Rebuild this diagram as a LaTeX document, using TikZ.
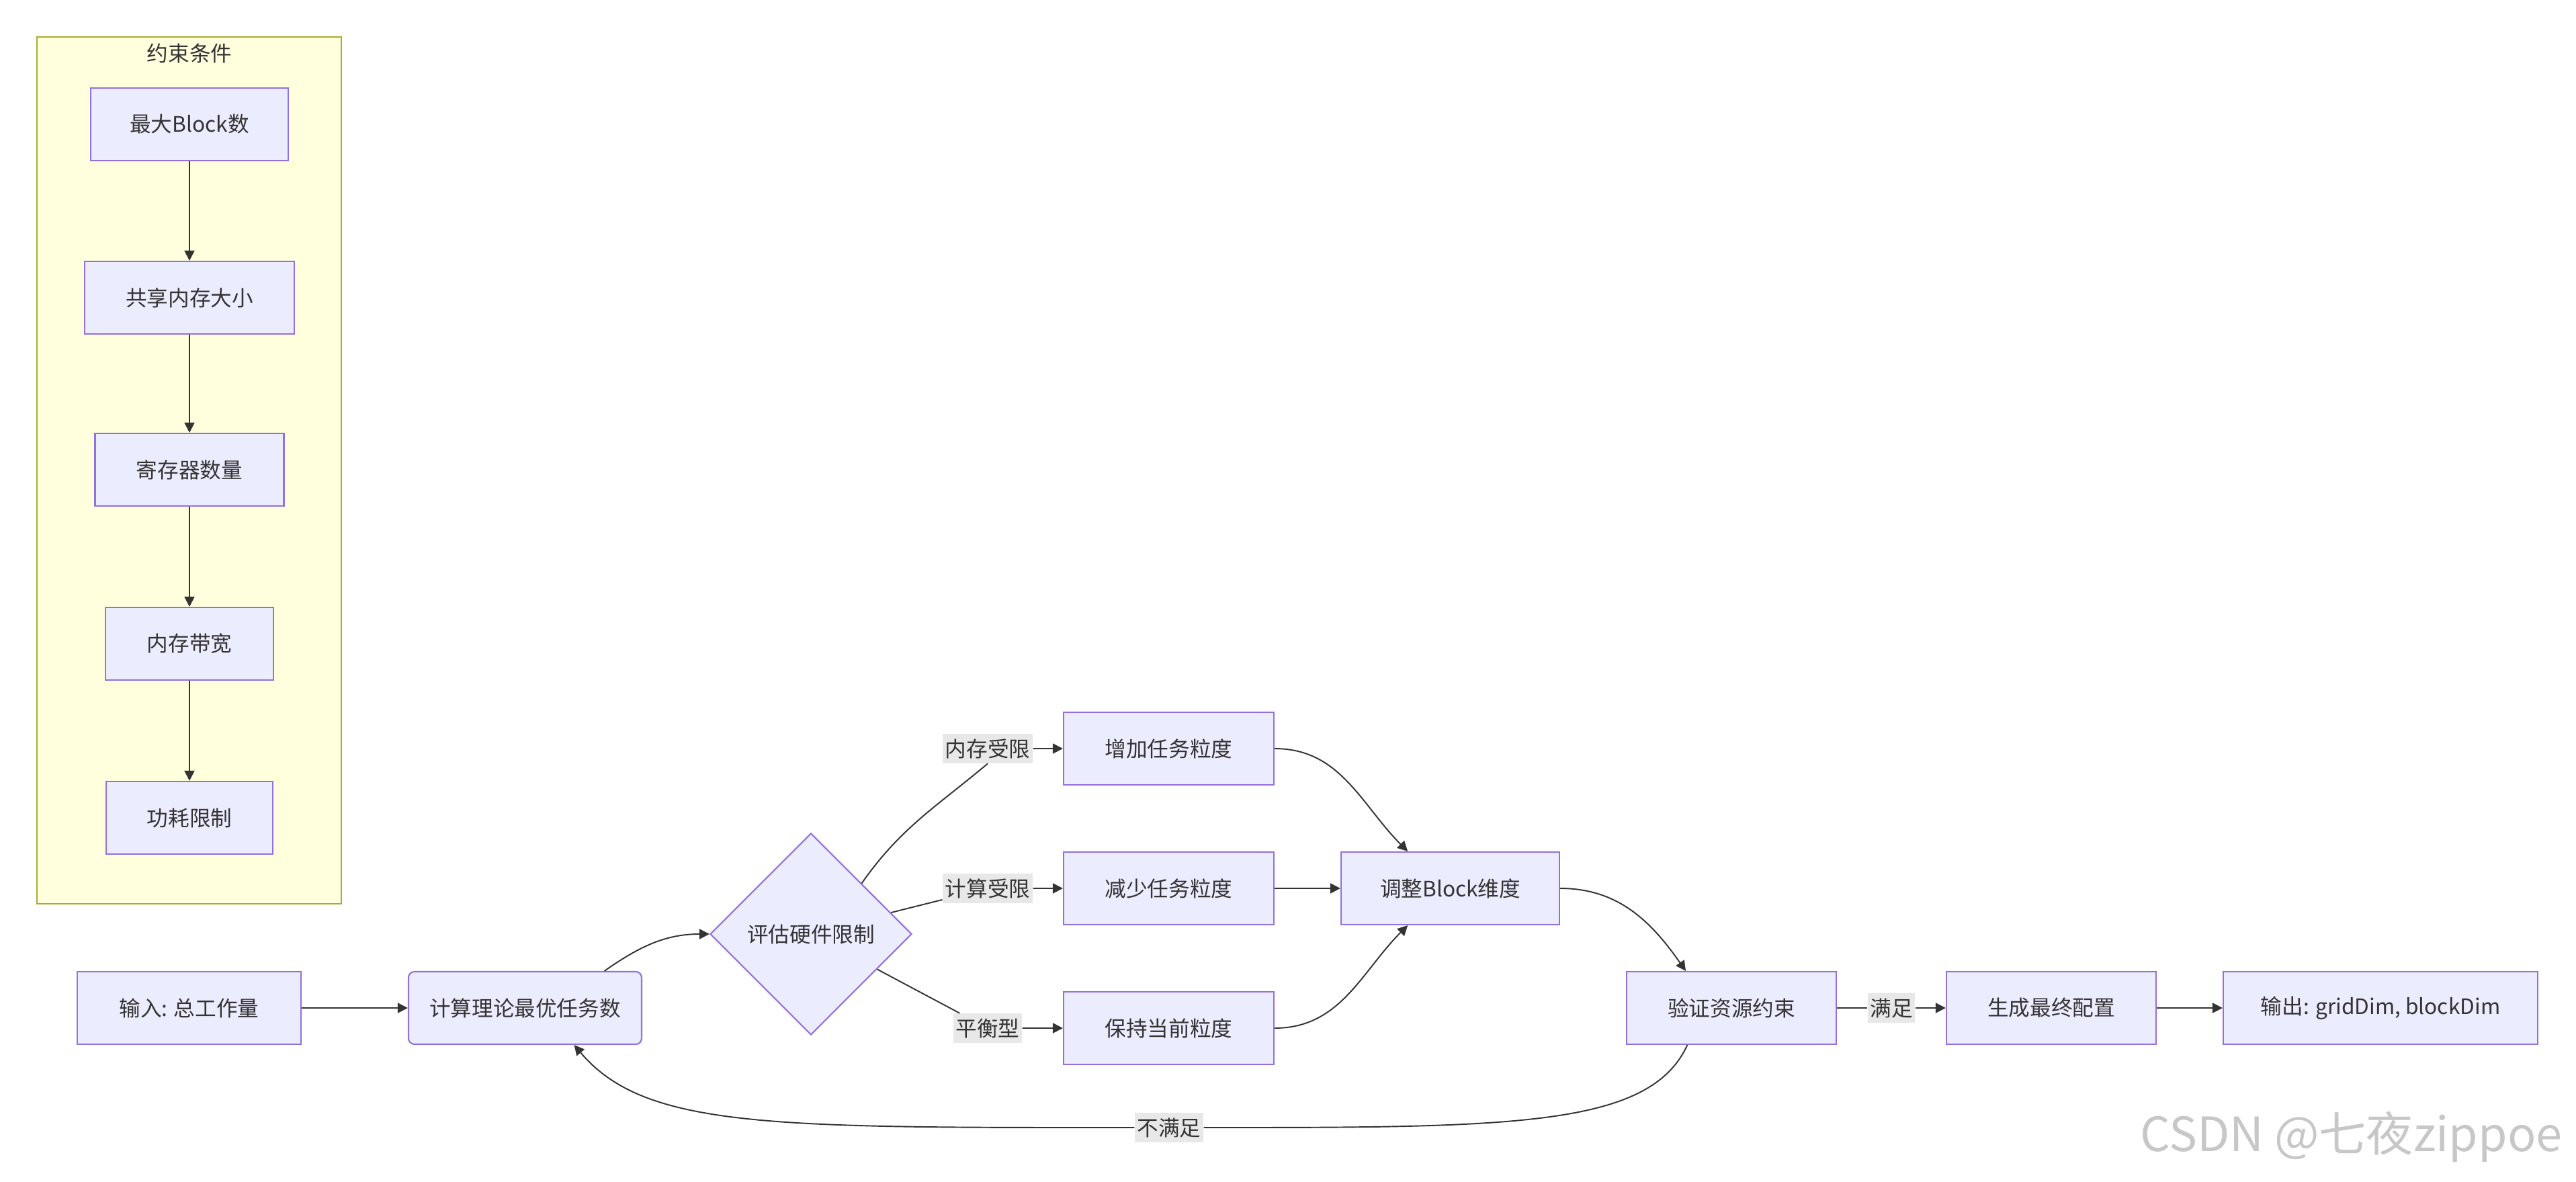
\documentclass[tikz,border=0pt]{standalone}
\usepackage{fontspec}
\setmainfont{Noto Sans CJK SC}
\usetikzlibrary{arrows.meta,shapes.geometric}

\definecolor{boxfill}{HTML}{ECECFF}
\definecolor{boxline}{HTML}{9370DB}
\definecolor{groupfill}{HTML}{FFFFDE}
\definecolor{groupline}{HTML}{AAAA33}
\definecolor{textgray}{HTML}{333333}
\definecolor{labelbg}{HTML}{E8E8E8}

\tikzset{
    box/.style={draw=boxline, fill=boxfill, line width=0.6pt, minimum height=1.08cm, inner sep=2pt, text=textgray},
    decision/.style={diamond, draw=boxline, fill=boxfill, line width=0.6pt, minimum width=3cm, minimum height=3cm, inner sep=1pt, text=textgray},
    elabel/.style={fill=labelbg, inner xsep=1pt, inner ysep=0.07cm, text=textgray},
    flow/.style={draw=textgray, line width=0.55pt, -{Triangle[length=0.15cm, width=0.15cm]}},
}

\begin{document}
\begin{tikzpicture}[font=\fontsize{9}{11}\selectfont]
    \useasboundingbox (0,0) rectangle (38.34,-17.58);

    % constraints group
    \draw[fill=groupfill, draw=groupline, line width=0.6pt] (0.55,-0.55) rectangle (5.08,-13.45);
    \node[text=textgray] (grouptitle) at (2.82,-0.79) {约束条件};

    \node[box, minimum width=2.94cm] (maxblk) at (2.82,-1.85) {最大Block数};
    \node[box, minimum width=3.12cm] (shmem) at (2.82,-4.43) {共享内存大小};
    \node[box, minimum width=2.81cm] (regs) at (2.82,-6.99) {寄存器数量};
    \node[box, minimum width=2.50cm] (membw) at (2.82,-9.58) {内存带宽};
    \node[box, minimum width=2.48cm] (power) at (2.82,-12.17) {功耗限制};

    % main flow
    \node[box, minimum width=3.33cm] (input) at (2.815,-15.00) {输入: 总工作量};
    \node[box, minimum width=3.47cm, rounded corners=2.5pt] (calc) at (7.815,-15.00) {计算理论最优任务数};
    \node[decision] (dia) at (12.07,-13.90) {评估硬件限制};

    \node[box, minimum width=3.13cm] (inc) at (17.395,-11.14) {增加任务粒度};
    \node[box, minimum width=3.13cm] (dec) at (17.395,-13.22) {减少任务粒度};
    \node[box, minimum width=3.13cm] (keep) at (17.395,-15.30) {保持当前粒度};
    \node[box, minimum width=3.25cm] (adj) at (21.585,-13.22) {调整Block维度};

    \node[box, minimum width=3.12cm] (verify) at (25.77,-15.00) {验证资源约束};
    \node[box, minimum width=3.12cm] (gen) at (30.53,-15.00) {生成最终配置};
    \node[box, minimum width=4.68cm] (output) at (35.43,-15.00) {输出: gridDim, blockDim};

    % edge labels
    \node[elabel] (lmem) at (14.70,-11.14) {内存受限};
    \node[elabel] (lcomp) at (14.70,-13.22) {计算受限};
    \node[elabel] (lbal) at (14.70,-15.30) {平衡型};
    \node[elabel] (lsat) at (28.15,-15.00) {满足};
    \node[elabel] (lnsat) at (17.40,-16.78) {不满足};

    \draw[flow] (maxblk) -- (shmem);
    \draw[flow] (shmem) -- (regs);
    \draw[flow] (regs) -- (membw);
    \draw[flow] (membw) -- (power);

    \draw[flow] (input) -- (calc);
    \draw[flow] (calc.25) to[out=35, in=180] (dia.west);

    \draw[flow] (dia.north east) to[out=55, in=-140] (lmem.south) (lmem.east) -- (inc.west);
    \draw[flow] (dia.15) -- (lcomp) -- (dec);
    \draw[flow] (dia.-28) -- (lbal) -- (keep);

    \draw[flow] (inc.east) to[out=0, in=135] (adj.139);
    \draw[flow] (dec) -- (adj);
    \draw[flow] (keep.east) to[out=0, in=-135] (adj.-139);

    \draw[flow] (adj.east) to[out=0, in=125] (verify.141);
    \draw[flow] (verify) -- (lsat) -- (gen);
    \draw[flow] (gen) -- (output);
    \draw[flow] (verify.-140) .. controls (24.55,-16.78) and (22.5,-16.78) .. (lnsat.east)
        (lnsat.west) .. controls (11.5,-16.78) and (9.6,-16.80) .. (calc.-37);

    \node[text=black!22, font=\fontsize{20}{24}\selectfont, anchor=east] (mark) at (38.26,-16.92) {CSDN @七夜zippoe};
\end{tikzpicture}
\end{document}
